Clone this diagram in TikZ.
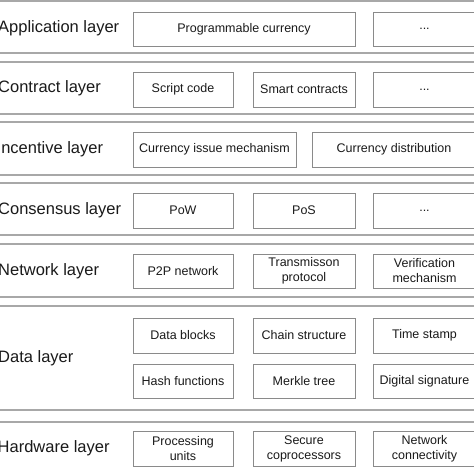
\documentclass[tikz,border=0pt]{standalone}
\usepackage{fontspec}
\setmainfont{Liberation Sans}
\definecolor{bandgray}{HTML}{A8A8A8}
\definecolor{boxgray}{HTML}{8A8A8A}
\definecolor{txt}{HTML}{1A1A1A}
\begin{document}
\begin{tikzpicture}[x=1pt,y=-1pt,
  band/.style={draw=bandgray, line width=1.6pt},
  cell/.style={draw=boxgray, line width=1pt, fill=white, inner sep=0pt,
    font=\fontsize{12.5}{15}\selectfont, align=center, text=txt},
  lab/.style={anchor=west, inner sep=0pt, font=\fontsize{16.5}{19}\selectfont, text=txt}]
\useasboundingbox[fill=white] (0,0) rectangle (474,474);
\clip (0,0) rectangle (474,474);
% bands
\draw[band] (-5,1) rectangle (480,53);
\draw[band] (-5,62) rectangle (480,114);
\draw[band] (-5,122) rectangle (480,175);
\draw[band] (-5,183) rectangle (480,235);
\draw[band] (-5,244) rectangle (480,297);
\draw[band] (-5,306) rectangle (480,410);
\draw[band] (-5,422) rectangle (480,476);
% labels
\node[lab] (lapp) at (-2,28) {Application layer};
\node[lab] (lcon) at (-2,88.5) {Contract layer};
\node[lab] (linc) at (-3.5,149) {Incentive layer};
\node[lab] (lcons) at (-2,210) {Consensus layer};
\node[lab] (lnet) at (-2,271) {Network layer};
\node[lab] (ldat) at (-2,358) {Data layer};
\node[lab] (lhw) at (-2.5,448) {Hardware layer};
% application
\node[cell, minimum width=222pt, minimum height=34pt] (pc) at (244,29) {Programmable currency};
\node[cell, minimum width=103pt, minimum height=34pt] (appd) at (424.5,29) {...};
% contract
\node[cell, minimum width=100pt, minimum height=35pt] (sc) at (183,89.5) {Script code};
\node[cell, minimum width=102pt, minimum height=35pt] (smc) at (304,89.5) {Smart contracts};
\node[cell, minimum width=103pt, minimum height=35pt] (cond) at (424.5,89.5) {...};
% incentive
\node[cell, minimum width=163pt, minimum height=35pt] (cim) at (214.5,149.5) {Currency issue mechanism};
\node[cell, minimum width=164pt, minimum height=35pt] (cd) at (394,149.5) {Currency distribution};
% consensus
\node[cell, minimum width=100pt, minimum height=35pt] (pow) at (183,210.5) {PoW};
\node[cell, minimum width=102pt, minimum height=35pt] (pos) at (304,210.5) {PoS};
\node[cell, minimum width=103pt, minimum height=35pt] (consd) at (424.5,210.5) {...};
% network
\node[cell, minimum width=100pt, minimum height=34pt] (p2p) at (183,271) {P2P network};
\node[cell, minimum width=102pt, minimum height=34pt] (tp) at (304,271) {Transmisson\\protocol};
\node[cell, minimum width=103pt, minimum height=34pt] (vm) at (424.5,271) {Verification\\mechanism};
% data
\node[cell, minimum width=100pt, minimum height=35pt] (db) at (183,335.5) {Data blocks};
\node[cell, minimum width=102pt, minimum height=35pt] (cs) at (304,335.5) {Chain structure};
\node[cell, minimum width=103pt, minimum height=35pt] (ts) at (424.5,335.5) {Time stamp};
\node[cell, minimum width=100pt, minimum height=34pt] (hf) at (183,381) {Hash functions};
\node[cell, minimum width=102pt, minimum height=34pt] (mt) at (304,381) {Merkle tree};
\node[cell, minimum width=103pt, minimum height=34pt] (ds) at (424.5,381) {Digital signature};
% hardware
\node[cell, minimum width=100pt, minimum height=35pt] (pu) at (183,448.5) {Processing\\units};
\node[cell, minimum width=102pt, minimum height=35pt] (scp) at (304,448.5) {Secure\\coprocessors};
\node[cell, minimum width=103pt, minimum height=35pt] (nc) at (424.5,448.5) {Network\\connectivity};
\end{tikzpicture}
\end{document}
